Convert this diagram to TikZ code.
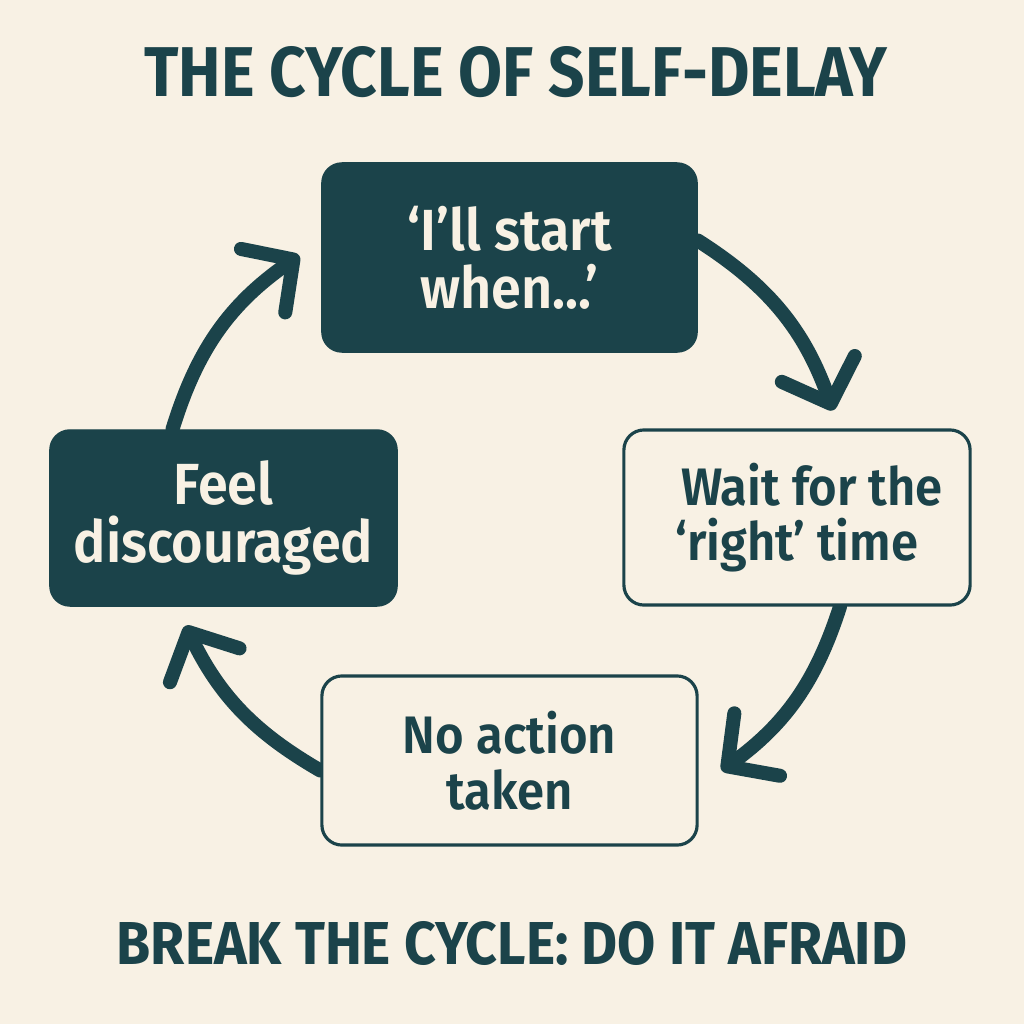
\documentclass[tikz,border=0pt]{standalone}
\usepackage{fontspec}
\usepackage{graphicx}
\usetikzlibrary{arrows.meta}
\IfFontExistsTF{FiraSans-SemiBold.otf}
  {\newfontfamily\boxfont{FiraSans-SemiBold.otf}[FakeStretch=0.93]}
  {\IfFontExistsTF{Fira Sans SemiBold}
     {\newfontfamily\boxfont{Fira Sans SemiBold}[FakeStretch=0.93]}
     {\newfontfamily\boxfont{Fira Sans}[FakeStretch=0.93,FakeBold=1.2]}}
\newfontfamily\titlefont{Fira Sans}
\definecolor{deepteal}{RGB}{27,67,74}
\definecolor{creambg}{RGB}{248,241,228}
\pgfdeclarelayer{bg}
\pgfdeclarelayer{arrowlayer}
\pgfsetlayers{bg,arrowlayer,main}
\tikzset{
  boxbase/.style={rounded corners=0.2cm, inner sep=0pt, align=center,
    font=\boxfont\fontsize{16.5}{16.5}\selectfont},
  darkbox/.style={boxbase, fill=deepteal, draw=deepteal, text=creambg},
  lightbox/.style={boxbase, fill=creambg, draw=deepteal, line width=0.9pt, text=deepteal,
    font=\boxfont\fontsize{15}{15.8}\selectfont},
  cyclearrow/.style={draw=deepteal, line width=4pt, line cap=round,
    -{Straight Barb[length=10.5pt,width=22pt,round]}},
  headline/.style={inner sep=0pt, text=deepteal, font=\titlefont\bfseries}
}
\begin{document}
\begin{tikzpicture}[x=0.01cm,y=-0.01cm]
\begin{pgfonlayer}{bg}
\fill[creambg] (0,0) rectangle (1024,1024);
\end{pgfonlayer}
\useasboundingbox (0,0) rectangle (1024,1024);

\node[headline] (title) at (516,72) {\resizebox{7.43cm}{0.50cm}{THE CYCLE OF SELF-DELAY}};
\node[headline] (motto) at (512,943.5) {\resizebox{7.90cm}{0.43cm}{BREAK THE CYCLE: DO IT AFRAID}};

\node[darkbox, minimum width=3.75cm, minimum height=1.89cm] (start) at (509.5,257.5) {‘I’ll start\\when...’};
\node[lightbox, minimum width=3.46cm, minimum height=1.75cm] (wait) at (797,517.5) {\hspace*{0.3cm}Wait for the\\‘right’ time};
\node[lightbox, minimum width=3.75cm, minimum height=1.69cm] (noact) at (509.5,760.5) {No action\\taken};
\node[darkbox, minimum width=3.47cm, minimum height=1.76cm] (feel) at (223.5,518) {Feel\\discouraged};

\begin{pgfonlayer}{arrowlayer}
\draw[cyclearrow] ([shift={(0,-17)}]start.east) to[bend left=19] ([shift={(36,-18)}]wait.north);
\draw[cyclearrow] ([shift={(43,0)}]wait.south) to[bend left=18] ([shift={(23,10)}]noact.east);
\draw[cyclearrow] ([shift={(0,10)}]noact.west) to[bend left=17] ([shift={(-38,19)}]feel.south);
\draw[cyclearrow] ([shift={(-51,0)}]feel.north) to[bend left=19] ([shift={(-22,-2)}]start.west);
\end{pgfonlayer}
\end{tikzpicture}
\end{document}
